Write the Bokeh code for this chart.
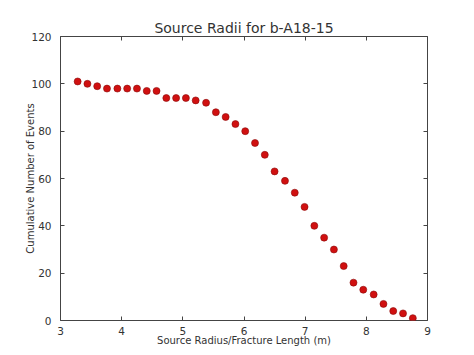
from bokeh.plotting import figure
from bokeh.models import LinearAxis, Range1d, SingleIntervalTicker
from bokeh.embed import file_html
from bokeh.resources import INLINE

radius = [3.28, 3.44, 3.60, 3.76, 3.93, 4.09, 4.25, 4.41, 4.57, 4.73, 4.89, 5.05,
          5.21, 5.38, 5.54, 5.70, 5.86, 6.02, 6.18, 6.34, 6.50, 6.67, 6.83, 6.99,
          7.15, 7.31, 7.47, 7.63, 7.79, 7.95, 8.12, 8.28, 8.44, 8.60, 8.76]
events = [101, 100, 99, 98, 98, 98, 98, 97, 97, 94, 94, 94,
          93, 92, 88, 86, 83, 80, 75, 70, 63, 59, 54, 48,
          40, 35, 30, 23, 16, 13, 11, 7, 4, 3, 1]
title_text = "Source Radii for b-A18-15"

FONT = "DejaVu Sans"
TXT = "#333333"

p = figure(width=474, height=355, output_backend="svg", toolbar_location=None,
           x_range=Range1d(3, 9), y_range=Range1d(0, 120),
           min_border_left=60, min_border_right=47, min_border_top=36, min_border_bottom=35,
           x_axis_label="Source Radius/Fracture Length (m)",
           y_axis_label="Cumulative Number of Events")

p.xgrid.visible = False
p.ygrid.visible = False
p.outline_line_color = "#444444"
p.outline_line_width = 1
p.background_fill_color = "white"
p.border_fill_color = "white"

for ax in (p.xaxis[0], p.yaxis[0]):
    ax.axis_line_color = None
    ax.major_tick_in = 4
    ax.major_tick_out = 0
    ax.minor_tick_line_color = None
    ax.major_tick_line_color = "#444444"
    ax.major_label_text_font = FONT
    ax.major_label_text_font_size = "10.5px"
    ax.major_label_text_color = TXT
    ax.axis_label_text_font = FONT
    ax.axis_label_text_font_size = "10px"
    ax.axis_label_text_font_style = "normal"
    ax.axis_label_text_color = TXT
p.xaxis[0].ticker = SingleIntervalTicker(interval=1)
p.yaxis[0].ticker = SingleIntervalTicker(interval=20)
p.xaxis[0].major_label_standoff = 2
p.xaxis[0].axis_label_standoff = -3
p.yaxis[0].major_label_standoff = 5
p.yaxis[0].axis_label_standoff = -8

top = LinearAxis(ticker=SingleIntervalTicker(interval=1), axis_label=title_text)
right = LinearAxis(ticker=SingleIntervalTicker(interval=20))
for ax in (top, right):
    ax.axis_line_color = None
    ax.major_tick_in = 4
    ax.major_tick_out = 0
    ax.minor_tick_line_color = None
    ax.major_tick_line_color = "#444444"
    ax.major_label_text_font_size = "0px"
    ax.major_label_text_color = None
    ax.major_label_standoff = 0
top.axis_label_text_font = FONT
top.axis_label_text_font_size = "14px"
top.axis_label_text_font_style = "normal"
top.axis_label_text_color = TXT
top.axis_label_standoff = -3
p.add_layout(top, "above")
p.add_layout(right, "right")

p.scatter(radius, events, size=7, fill_color="#d01010", line_color="#8a0a0a", line_width=0.6)

open("out.html", "w").write(file_html(p, INLINE))
